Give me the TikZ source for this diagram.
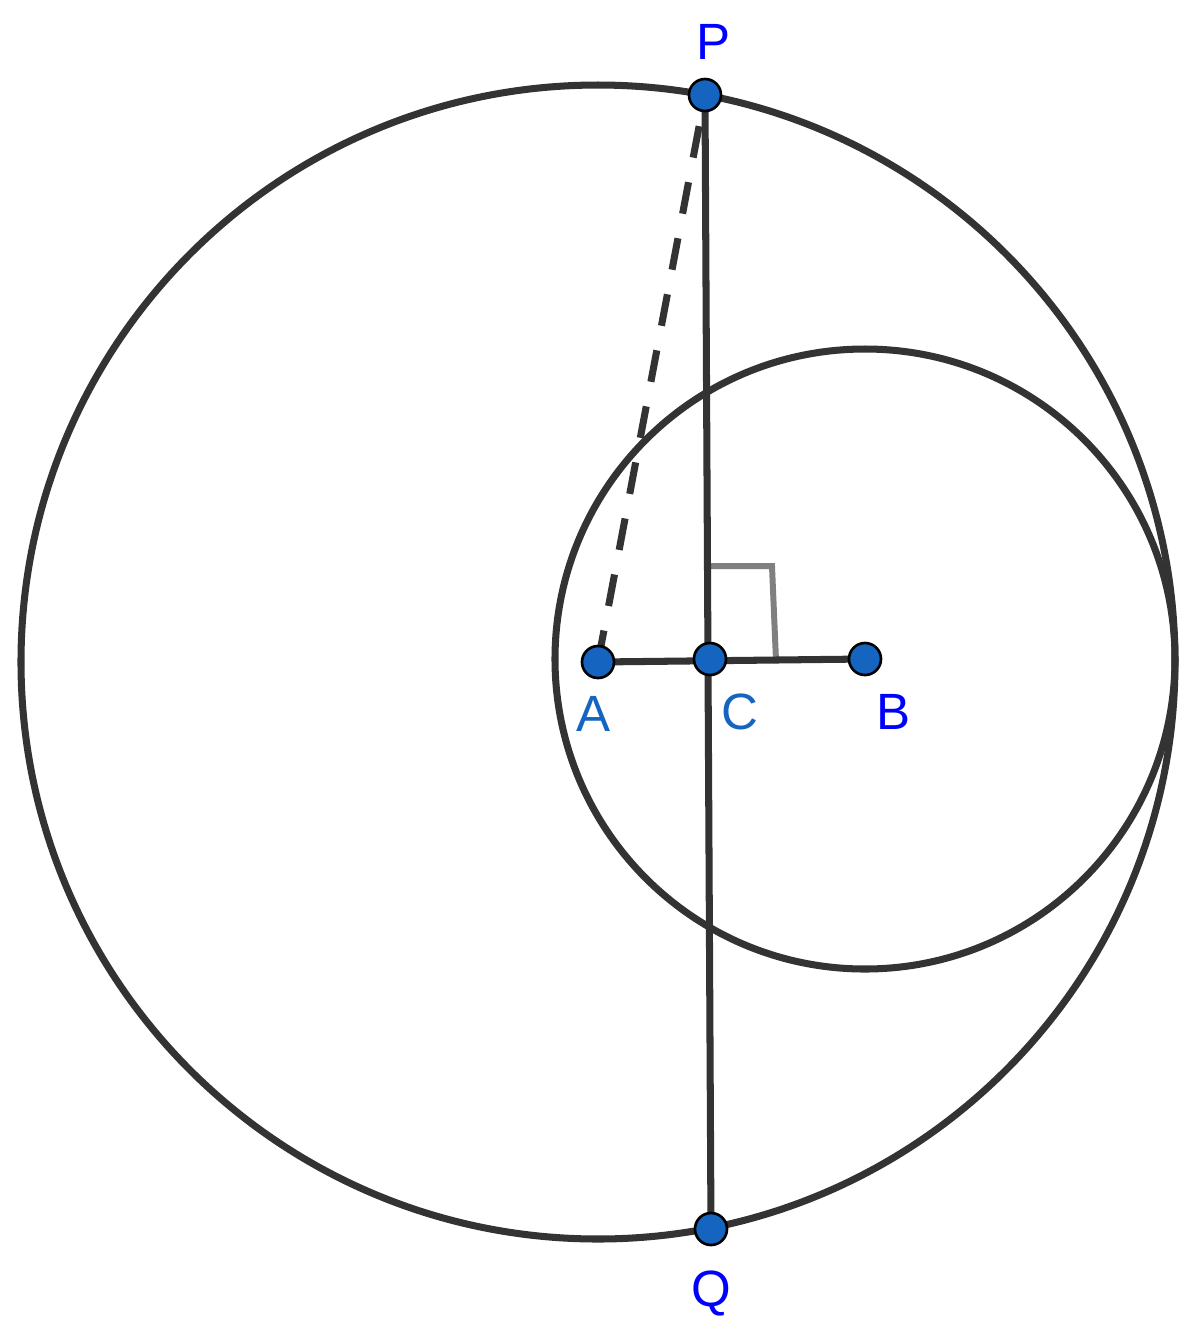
\documentclass[tikz,border=0pt]{standalone}
\usepackage{fontspec}
\setmainfont{Liberation Sans}
\definecolor{linec}{HTML}{333333}
\definecolor{ptc}{HTML}{1565C0}
\definecolor{lblblue}{HTML}{0000FF}
\definecolor{rac}{HTML}{808080}
\begin{document}
\begin{tikzpicture}[x=0.01cm,y=-0.01cm,
  geo/.style={draw=linec,line width=2pt},
  pt/.style={circle,fill=ptc,draw=black,line width=0.75pt,minimum size=0.32cm,inner sep=0pt},
  lbl/.style={font=\fontsize{14.5}{16}\selectfont,inner sep=0pt},
  ra/.style={draw=rac,line width=1.7pt}]
\useasboundingbox (0,0) rectangle (1198,1332);
\coordinate (Ac) at (598,662);
\coordinate (Bc) at (865,659);
\draw[geo] (Ac) circle[radius=577];
\draw[geo] (Bc) circle[radius=310];
\coordinate (Pc) at (705,95);
\coordinate (Qc) at (711,1229);
\coordinate (Cc) at (710,659);
\coordinate (R1) at (707,566);
\coordinate (R2) at (772,566);
\coordinate (R3) at (776,660);
\draw[ra] (R1) -- (R2) -- (R3);
\draw[geo] (Pc) -- (Qc);
\draw[geo] (Ac) -- (Bc);
\draw[geo,dash pattern=on 0.32cm off 0.25cm] (Ac) -- (Pc);
\node[pt] (P) at (Pc) {};
\node[pt] (Q) at (Qc) {};
\node[pt] (A) at (Ac) {};
\node[pt] (B) at (Bc) {};
\node[pt] (C) at (Cc) {};
\node[lbl,text=lblblue] (lP) at (714,42) {P};
\node[lbl,text=ptc] (lA) at (594,714) {A};
\node[lbl,text=ptc] (lC) at (740,712) {C};
\node[lbl,text=lblblue] (lB) at (894,712) {B};
\node[lbl,text=lblblue] (lQ) at (711,1293) {Q};
\end{tikzpicture}
\end{document}
